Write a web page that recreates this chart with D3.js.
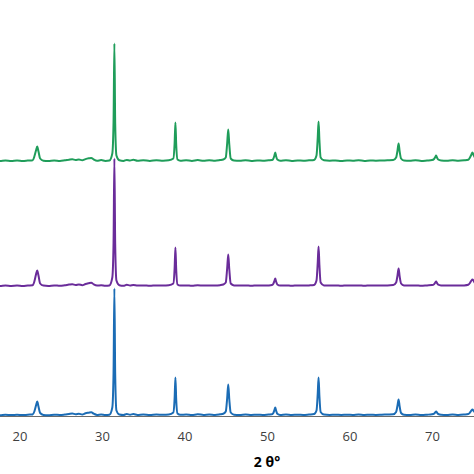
<!DOCTYPE html>
<html>
<head>
<meta charset="utf-8">
<script src="https://cdn.jsdelivr.net/npm/d3@7"></script>
<style>
  html, body { margin: 0; padding: 0; background: #ffffff; }
  svg { display: block; }
</style>
</head>
<body>
<div id="chart"></div>
<script>
// ---- DATA (2θ in degrees, intensity in arbitrary units above each trace baseline) ----
const theta = [
  16, 17, 17.6, 18.3, 19, 19.7, 20.4, 21.0, 21.6,
  21.8, 22.0, 22.15, 22.3, 22.5,
  22.9, 23.5, 24.2, 24.9, 25.5, 26.0, 26.4, 26.8, 27.2, 27.6, 28.0, 28.4, 28.7, 29.0, 29.4, 29.9, 30.4, 30.9,
  31.25, 31.4, 31.5, 31.6, 31.75,
  32.1, 32.6, 33.0, 33.4, 33.8, 34.3, 35.0, 35.8, 36.6, 37.4, 38.1,
  38.65, 38.8, 38.9, 39.0, 39.15,
  39.5, 40.2, 40.9, 41.6, 42.3, 43.0, 43.7, 44.3, 44.7,
  45.0, 45.17, 45.3, 45.43, 45.6,
  46.0, 46.7, 47.4, 48.1, 48.8, 49.5, 50.2, 50.6,
  50.75, 50.9, 51.0, 51.1, 51.25,
  51.6, 52.3, 53.0, 53.7, 54.4, 55.1, 55.7,
  56.0, 56.15, 56.25, 56.35, 56.5,
  56.9, 57.6, 58.3, 59.0, 59.7, 60.4, 61.1, 61.8, 62.5, 63.2, 63.9, 64.6, 65.3,
  65.65, 65.82, 65.95, 66.08, 66.25,
  66.6, 67.3, 68.0, 68.7, 69.4, 70.0,
  70.25, 70.4, 70.5, 70.6, 70.75,
  71.1, 71.8, 72.5, 73.2, 73.9, 74.4,
  74.6, 74.78, 74.9, 75.02, 75.2,
  75.6, 76.5
];

const sampleTop = [ // green trace
  0.5, 0.8, 0.4, 0.9, 0.5, 1.0, 0.6, 0.9, 1.2,
  5, 11, 15, 10, 3,
  0.8, 0.4, 1.0, 0.6, 1.2, 1.8, 2.2, 1.6, 2.0, 1.2, 2.4, 3.2, 3.6, 2.0, 0.8, 1.4, 0.6, 1.0,
  8, 40, 118, 38, 6,
  1.2, 0.6, 1.6, 1.0, 1.8, 0.8, 1.2, 0.6, 1.2, 0.8, 1.2,
  3, 18, 39, 16, 2,
  0.8, 1.2, 0.6, 1.4, 0.8, 1.2, 0.8, 1.4, 2.0,
  4, 18, 32, 17, 3,
  1.0, 0.8, 1.2, 0.6, 1.0, 0.8, 1.2, 1.4,
  2.5, 6, 9, 5.5, 2,
  0.8, 1.2, 0.6, 1.0, 0.8, 1.2, 1.6,
  6, 24, 40, 22, 4,
  1.2, 0.8, 1.0, 0.6, 1.0, 0.8, 1.2, 0.6, 1.0, 0.8, 1.0, 1.2, 1.4,
  4, 11, 18, 10, 3,
  1.0, 0.8, 1.2, 0.6, 1.0, 1.4,
  2.5, 4.5, 6, 4, 2,
  1.0, 0.8, 1.2, 0.8, 1.2, 1.8,
  4, 7, 9, 7, 4,
  1.6, 1.0
];

const sampleMid = [ // purple trace
  0.6, 0.9, 0.5, 1.0, 0.6, 0.9, 0.5, 1.0, 1.3,
  5, 12, 16, 11, 3,
  0.9, 0.5, 1.1, 0.7, 1.3, 1.9, 2.3, 1.5, 2.1, 1.3, 2.5, 3.3, 3.8, 2.1, 0.9, 1.3, 0.7, 1.1,
  9, 44, 128, 42, 6,
  1.3, 0.7, 1.7, 1.1, 1.6, 0.9, 1.1, 0.7, 1.1, 0.9, 1.3,
  3, 18, 39, 16, 2,
  0.9, 1.1, 0.7, 1.3, 0.9, 1.1, 0.9, 1.3, 2.0,
  4, 18, 32, 17, 3,
  1.1, 0.9, 1.1, 0.7, 1.1, 0.9, 1.1, 1.5,
  2.5, 5.5, 8, 5, 2,
  0.9, 1.1, 0.7, 1.1, 0.9, 1.1, 1.6,
  6, 24, 40, 22, 4,
  1.1, 0.9, 1.1, 0.7, 1.1, 0.9, 1.1, 0.7, 1.1, 0.9, 1.1, 1.1, 1.4,
  4, 11, 18, 10, 3,
  1.1, 0.9, 1.1, 0.7, 1.1, 1.4,
  2.2, 4, 5, 3.6, 1.8,
  1.1, 0.9, 1.1, 0.9, 1.1, 1.7,
  3.5, 6, 7, 6, 3.5,
  1.5, 1.0
];

const sampleBottom = [ // blue trace
  0.4, 0.7, 0.3, 0.8, 0.4, 0.8, 0.4, 0.8, 1.0,
  4, 10, 14, 9, 2.5,
  0.6, 0.3, 0.8, 0.5, 1.0, 1.6, 2.0, 1.3, 1.8, 1.0, 2.2, 2.8, 3.2, 1.8, 0.6, 1.1, 0.5, 0.8,
  8, 43, 127, 41, 5,
  1.0, 0.5, 1.4, 0.8, 1.4, 0.6, 1.0, 0.5, 1.0, 0.7, 1.0,
  3, 17, 38, 15, 2,
  0.7, 1.0, 0.5, 1.2, 0.6, 1.0, 0.6, 1.2, 1.8,
  4, 17, 31, 16, 3,
  0.8, 0.6, 1.0, 0.5, 0.8, 0.6, 1.0, 1.2,
  2.2, 5.5, 8, 5, 1.8,
  0.6, 1.0, 0.5, 0.8, 0.6, 1.0, 1.4,
  5, 22, 38, 20, 3.5,
  1.0, 0.6, 0.8, 0.5, 0.8, 0.6, 1.0, 0.5, 0.8, 0.6, 0.8, 1.0, 1.2,
  3.5, 10, 16, 9, 2.5,
  0.8, 0.6, 1.0, 0.5, 0.8, 1.2,
  1.8, 3.2, 4, 3, 1.5,
  0.8, 0.6, 1.0, 0.6, 1.0, 1.5,
  3, 5, 6, 5, 3,
  1.3, 0.8
];

const seriesNames   = ["top", "middle", "bottom"];
const seriesOffsets = [255, 130, 1];
const xTicks = [20, 30, 40, 50, 60, 70];
const xLabel = "2 \u03B8\u00B0";

// ---- LAYOUT ----
const W = 474, H = 474;
const axisY = 416.5;
const colors = ["#1f9d5a", "#6a2c9a", "#1b6cb5"];

const svg = d3.select("#chart").append("svg")
  .attr("width", W).attr("height", H)
  .attr("viewBox", `0 0 ${W} ${H}`);

const x = d3.scaleLinear().domain([20, 70]).range([19.5, 432]);
const y = d3.scaleLinear().domain([0, 400]).range([axisY, axisY - 400]);

const seriesValues = [sampleTop, sampleMid, sampleBottom];
const series = seriesNames.map((name, i) => ({
  name,
  color: colors[i],
  points: theta.map((t, j) => ({ t, v: seriesValues[i][j] + seriesOffsets[i] }))
}));

const line = d3.line()
  .x(d => x(d.t))
  .y(d => y(d.v))
  .curve(d3.curveMonotoneX);

svg.append("defs").append("clipPath").attr("id", "clip")
  .append("rect").attr("x", 0).attr("y", 0).attr("width", W).attr("height", axisY + 1);

// axis
const axis = d3.axisBottom(x).tickValues(xTicks).tickSize(0).tickPadding(15)
  .tickFormat(d3.format("d"));
const gAxis = svg.append("g").attr("transform", `translate(0,${axisY})`).call(axis);
gAxis.select(".domain").remove();
gAxis.append("line").attr("x1", 0).attr("x2", W).attr("y1", 0).attr("y2", 0)
  .attr("stroke", "#6b6b6b").attr("stroke-width", 1.2);
gAxis.selectAll("text")
  .attr("fill", "#404040")
  .style("font-family", "'Open Sans', 'Liberation Sans', sans-serif")
  .style("font-size", "13px");

// traces
svg.append("g").attr("clip-path", "url(#clip)")
  .selectAll("path").data(series).join("path")
  .attr("d", d => line(d.points))
  .attr("fill", "none")
  .attr("stroke", d => d.color)
  .attr("stroke-width", 2)
  .attr("stroke-linejoin", "round")
  .attr("stroke-linecap", "round");

// axis title
svg.append("text")
  .attr("x", 267).attr("y", 467)
  .attr("text-anchor", "middle")
  .attr("fill", "#000")
  .style("font-family", "'Open Sans', 'DejaVu Sans', sans-serif")
  .style("font-weight", "bold")
  .style("font-size", "14px")
  .text(xLabel);
</script>
</body>
</html>
